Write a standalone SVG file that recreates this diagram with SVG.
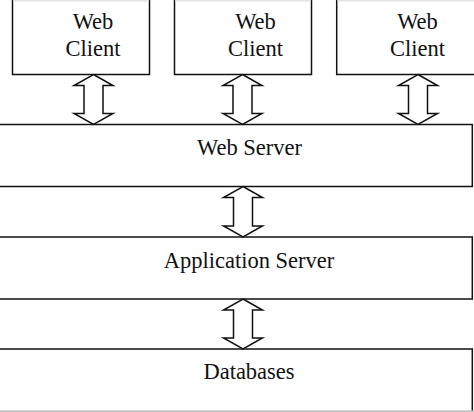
<svg xmlns="http://www.w3.org/2000/svg" width="474" height="412" viewBox="0 0 474 412">
<style>
.box{fill:#fff;stroke:#111;stroke-width:1.5}
.lbl{font-family:"Liberation Serif","Times New Roman",serif;font-size:22.5px;fill:#111;text-anchor:middle}
.arr{fill:#fff;stroke:#111;stroke-width:1.5;stroke-linejoin:miter}
</style>
<rect x="0" y="0" width="474" height="412" fill="#fff"/>
<g id="client1">
<rect class="box" x="12.5" y="-5" width="137" height="79.5"/>
<text class="lbl" x="93" y="29">Web</text>
<text class="lbl" x="93" y="56">Client</text>
</g>
<g id="client2">
<rect class="box" x="174.5" y="-5" width="137" height="79.5"/>
<text class="lbl" x="255.5" y="29">Web</text>
<text class="lbl" x="255.5" y="56">Client</text>
</g>
<g id="client3">
<rect class="box" x="336.7" y="-5" width="145" height="79.5"/>
<text class="lbl" x="417.5" y="29">Web</text>
<text class="lbl" x="417.5" y="56">Client</text>
</g>
<g id="webserver">
<rect class="box" x="-5" y="124.5" width="477.3" height="62"/>
<text class="lbl" x="249.5" y="155">Web Server</text>
</g>
<g id="appserver">
<rect class="box" x="-5" y="237" width="477.3" height="62"/>
<text class="lbl" x="249" y="267.5">Application Server</text>
</g>
<g id="databases">
<rect class="box" x="-5" y="349" width="477.3" height="66"/>
<text class="lbl" x="249" y="379">Databases</text>
</g>
<g id="connectors">
<polygon class="arr" points="93.5,74.5 113,85.5 103,85.5 103,113.5 113,113.5 93.5,124.5 74,113.5 84,113.5 84,85.5 74,85.5"/>
<polygon class="arr" points="242.5,74.5 262,85.5 252,85.5 252,113.5 262,113.5 242.5,124.5 223,113.5 233,113.5 233,85.5 223,85.5"/>
<polygon class="arr" points="418,74.5 437.5,85.5 427.5,85.5 427.5,113.5 437.5,113.5 418,124.5 398.5,113.5 408.5,113.5 408.5,85.5 398.5,85.5"/>
<polygon class="arr" points="243,186.5 262.5,197.5 252.5,197.5 252.5,226 262.5,226 243,237 223.5,226 233.5,226 233.5,197.5 223.5,197.5"/>
<polygon class="arr" points="243,299 262.5,310 252.5,310 252.5,338 262.5,338 243,349 223.5,338 233.5,338 233.5,310 223.5,310"/>
</g>
<rect x="0" y="410.3" width="474" height="1.7" fill="#c4c4c4"/>
<rect x="13.3" y="0" width="135.5" height="1.6" fill="#e4e4e4"/>
<rect x="175.3" y="0" width="135.5" height="1.6" fill="#e4e4e4"/>
<rect x="337.5" y="0" width="136.5" height="1.6" fill="#e4e4e4"/>
</svg>
